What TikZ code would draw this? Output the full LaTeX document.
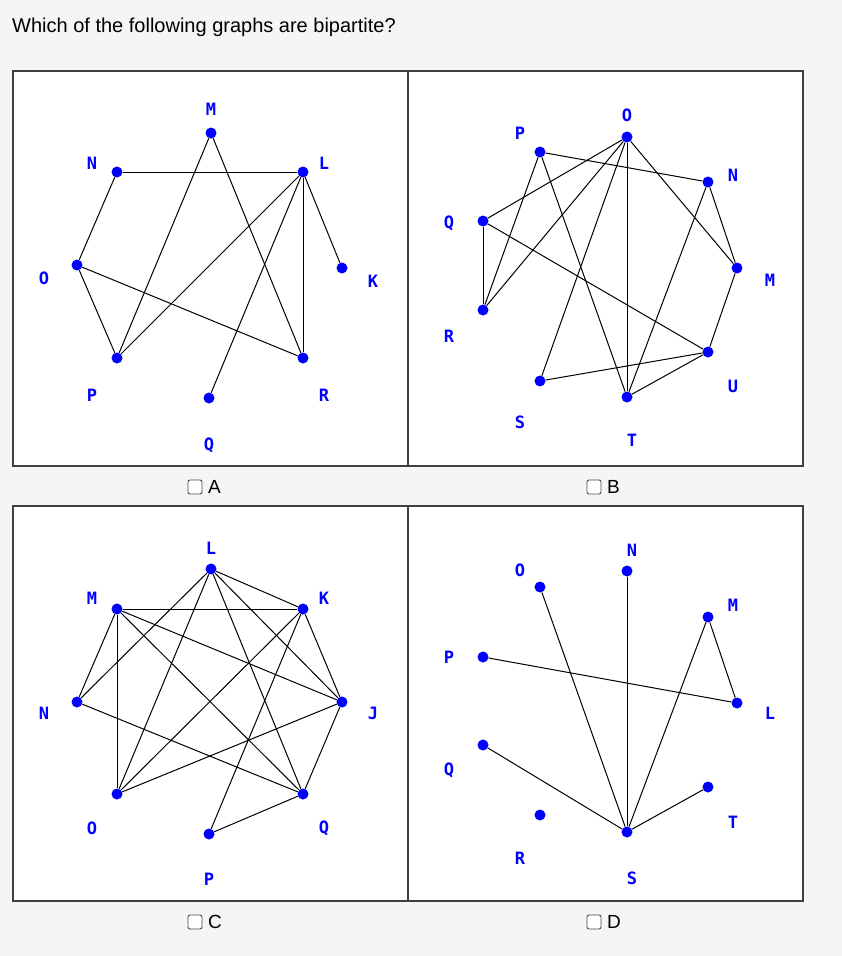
\documentclass[tikz,border=0pt]{standalone}
\usepackage{fontspec}
\setmainfont{Liberation Sans}
\newfontfamily\lblfont{DejaVu Sans Mono}
\begin{document}
\begin{tikzpicture}[x=1pt,y=-1pt,
  vtx/.style={circle,fill=blue,inner sep=0pt,minimum size=11pt},
  lbl/.style={text=blue,font=\lblfont\bfseries\fontsize{17}{17}\selectfont,inner sep=0pt},
  edge/.style={draw=black,line width=1pt},
  panel/.style={draw=black!75,line width=1.5pt,fill=white},
  cbox/.style={draw=black!70,rounded corners=2pt,line width=0.9pt,minimum size=14pt,inner sep=0pt,fill=white},
  opt/.style={font=\fontsize{19}{19}\selectfont,inner sep=0pt,anchor=west}]
\fill[black!4] (0,0) rectangle (842,956);
\useasboundingbox (0,0) rectangle (842,956);
\node[anchor=west,font=\fontsize{20}{20}\selectfont,inner sep=0pt] (title) at (12,27) {Which of the following graphs are bipartite?};
\node[panel,minimum width=395pt,minimum height=395pt,anchor=north west] (pA) at (12,70) {};
\node[panel,minimum width=395pt,minimum height=395pt,anchor=north west] (pB) at (407,70) {};
\node[panel,minimum width=395pt,minimum height=395pt,anchor=north west] (pC) at (12,505) {};
\node[panel,minimum width=395pt,minimum height=395pt,anchor=north west] (pD) at (407,505) {};
% Panel A
\foreach \n/\x/\y/\lx/\ly in {M/211/133/211/109, N/117/172/92/163, L/303/172/324/163, O/77/265/44/278, K/342/268/373/281, P/117/358/92/395, R/303/358/324/395, Q/209/398/209/445}{
  \node[vtx] (A\n) at (\x,\y) {};
  \node[lbl] (Al\n) at (\lx,\ly) {\n};
}
\foreach \a/\b in {N/L,N/O,O/P,O/R,M/P,M/R,L/P,L/Q,L/R,L/K}{\draw[edge] (A\a) -- (A\b);}
% Panel B
\foreach \n/\x/\y/\lx/\ly in {O/627/137/627/115, P/540/152/520/133, N/708/182/733/175, Q/483/221/449/223, M/737/268/770/280, R/483/310/449/336, U/708/352/733/386, S/540/381/520/422, T/627/397/632/440}{
  \node[vtx] (B\n) at (\x,\y) {};
  \node[lbl] (Bl\n) at (\lx,\ly) {\n};
}
\foreach \a/\b in {P/N,P/R,P/T,O/Q,O/R,O/S,O/T,O/M,Q/R,Q/U,N/M,N/T,M/U,S/U,T/U}{\draw[edge] (B\a) -- (B\b);}
% Panel C
\foreach \n/\x/\y/\lx/\ly in {L/211/569/211/548, M/117/609/92/598, K/303/609/324/598, N/77/702/44/713, J/342/702/373/713, O/117/794/92/828, Q/303/794/324/828, P/209/834/209/879}{
  \node[vtx] (C\n) at (\x,\y) {};
  \node[lbl] (Cl\n) at (\lx,\ly) {\n};
}
\foreach \a/\b in {L/K,L/N,L/O,L/J,L/Q,M/K,M/N,M/O,M/J,M/Q,K/O,K/J,K/P,N/Q,J/O,J/Q,Q/P}{\draw[edge] (C\a) -- (C\b);}
% Panel D
\foreach \n/\x/\y/\lx/\ly in {O/540/587/520/570, N/627/571/632/550, M/708/617/733/605, P/483/657/449/657, L/737/703/770/713, Q/483/745/449/770, T/708/787/733/822, R/540/815/520/858, S/627/832/632/878}{
  \node[vtx] (D\n) at (\x,\y) {};
  \node[lbl] (Dl\n) at (\lx,\ly) {\n};
}
\foreach \a/\b in {O/S,N/S,M/S,M/L,P/L,Q/S,T/S}{\draw[edge] (D\a) -- (D\b);}
% options
\node[cbox] (cbA) at (195,487) {}; \node[opt] (oA) at (208,487) {A};
\node[cbox] (cbB) at (594,487) {}; \node[opt] (oB) at (607,487) {B};
\node[cbox] (cbC) at (195,922) {}; \node[opt] (oC) at (208,922) {C};
\node[cbox] (cbD) at (594,922) {}; \node[opt] (oD) at (607,922) {D};
\end{tikzpicture}
\end{document}
